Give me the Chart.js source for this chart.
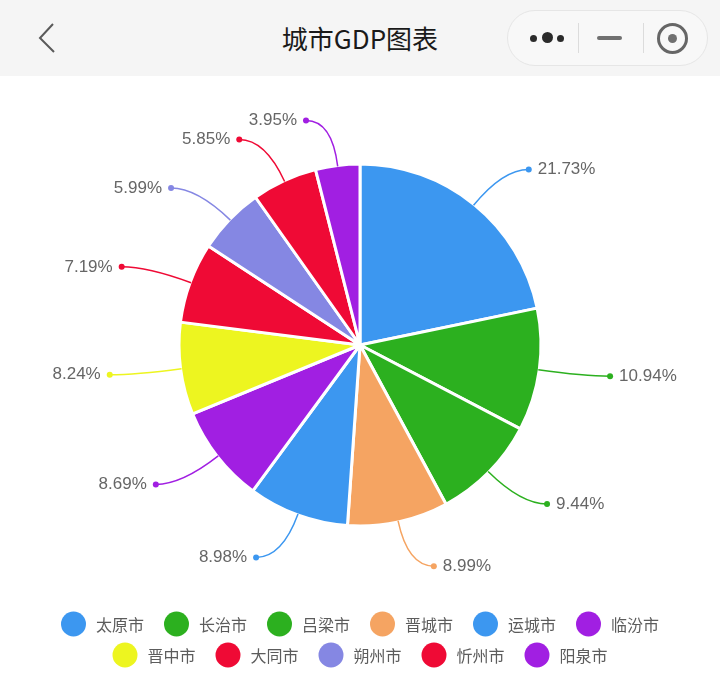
<!DOCTYPE html>
<html>
<head>
<meta charset="utf-8">
<title>城市GDP图表</title>
<script src="https://cdn.jsdelivr.net/npm/chart.js"></script>
<style>
  body { margin:0; width:720px; height:693px; background:#fff; overflow:hidden; font-family:"Noto Sans CJK SC", sans-serif; }
  .nav { position:absolute; left:0; top:0; width:720px; height:76px; background:#f5f5f5; }
  .nav .back { position:absolute; left:30px; top:16px; }
  .nav .title { position:absolute; left:0; right:0; top:18px; text-align:center; font-size:26px; line-height:40px; color:#1a1a1a; }
  .capsule { position:absolute; left:507px; top:10px; width:199px; height:54px; border:1px solid #e6e6e6; border-radius:28px; background:#f8f8f8; }
  .capsule .sep { position:absolute; top:12px; width:1px; height:30px; background:#dcdcdc; }
  .dot { position:absolute; border-radius:50%; background:#2b2b2b; }
  .minus { position:absolute; left:89px; top:25px; width:25px; height:4px; border-radius:2px; background:#707070; }
  .ring { position:absolute; left:149px; top:12px; width:25px; height:25px; border:3px solid #666; border-radius:50%; }
  .ring i { position:absolute; left:8px; top:8px; width:9px; height:9px; border-radius:50%; background:#707070; }
  #wrap { position:absolute; left:0; top:76px; width:720px; height:617px; }
</style>
</head>
<body>
  <div class="nav">
    <svg class="back" width="40" height="44"><polyline points="23,8 10,22 24,36" fill="none" stroke="#5a5a5a" stroke-width="2"/></svg>
    <div class="title">城市GDP图表</div>
    <div class="capsule">
      <div class="dot" style="left:22px;top:24px;width:7px;height:7px;"></div>
      <div class="dot" style="left:34px;top:21px;width:11px;height:11px;"></div>
      <div class="dot" style="left:49px;top:24px;width:7px;height:7px;"></div>
      <div class="sep" style="left:70px;"></div>
      <div class="minus"></div>
      <div class="sep" style="left:135px;"></div>
      <div class="ring"><i></i></div>
    </div>
  </div>
  <div id="wrap"><canvas id="pie"></canvas></div>

<script>
  // ---------------- Data ----------------
  const cities = ["太原市", "长治市", "吕梁市", "晋城市", "运城市", "临汾市", "晋中市", "大同市", "朔州市", "忻州市", "阳泉市"];
  const shares = [21.73, 10.94, 9.44, 8.99, 8.98, 8.69, 8.24, 7.19, 5.99, 5.85, 3.95];
  const colors = ["#3c97f0", "#2cb01f", "#2cb01f", "#f5a462", "#3c97f0", "#a11fe2", "#edf520", "#ef0a35", "#8587e3", "#ef0a35", "#a11fe2"];

  const total = shares.reduce((a, b) => a + b, 0);

  // ---------------- Leader lines + percent labels ----------------
  const pieLabels = {
    id: "pieLabels",
    afterDatasetsDraw(chart) {
      const ctx = chart.ctx;
      const meta = chart.getDatasetMeta(0);
      ctx.save();
      ctx.font = '17px "Liberation Sans", Arial, sans-serif';
      ctx.textBaseline = "middle";
      meta.data.forEach((arc, i) => {
        const { x, y, startAngle, endAngle, outerRadius } = arc.getProps(["x", "y", "startAngle", "endAngle", "outerRadius"], true);
        const mid = (startAngle + endAngle) / 2;
        const r0 = outerRadius - 1;
        const r1 = outerRadius * 1.25;
        const x0 = x + Math.cos(mid) * r0, y0 = y + Math.sin(mid) * r0;
        const x1 = x + Math.cos(mid) * r1, y1 = y + Math.sin(mid) * r1;
        const right = x1 >= x;
        const x2 = right ? x1 + 26 : x1 - 26;
        const color = colors[i];

        ctx.strokeStyle = color;
        ctx.lineWidth = 1.5;
        ctx.beginPath();
        ctx.moveTo(x0, y0);
        ctx.quadraticCurveTo(x1, y1, x2, y1);
        ctx.stroke();

        ctx.fillStyle = color;
        ctx.beginPath();
        ctx.arc(x2, y1, 3, 0, Math.PI * 2);
        ctx.fill();

        ctx.fillStyle = "#666";
        ctx.textAlign = right ? "left" : "right";
        const txt = (shares[i] / total * 100).toFixed(2) + "%";
        ctx.fillText(txt, right ? x2 + 9 : x2 - 9, y1);
      });
      ctx.restore();
    }
  };

  // ---------------- Legend (two centred rows) ----------------
  const dotLegend = {
    id: "dotLegend",
    afterDraw(chart) {
      const ctx = chart.ctx;
      const size = 25, gap = 10, after = 20;
      const rowY = [548, 579];
      ctx.save();
      ctx.font = '16px "Noto Sans CJK SC", sans-serif';
      ctx.textBaseline = "middle";
      ctx.textAlign = "left";
      const items = cities.map((c, i) => ({ text: c, color: colors[i], w: size + gap + ctx.measureText(c).width }));
      const rows = [[]];
      let lineW = 0;
      items.forEach(it => {
        if (lineW + it.w > chart.width - 20 && rows[rows.length - 1].length) { rows.push([]); lineW = 0; }
        rows[rows.length - 1].push(it);
        lineW += it.w + after;
      });
      rows.forEach((row, r) => {
        const rw = row.reduce((s, it) => s + it.w, 0) + after * (row.length - 1);
        let x = (chart.width - rw) / 2;
        const cy = rowY[r] !== undefined ? rowY[r] : rowY[0] + 31 * r;
        row.forEach(it => {
          ctx.fillStyle = it.color;
          ctx.beginPath();
          ctx.arc(x + size / 2, cy, size / 2, 0, Math.PI * 2);
          ctx.fill();
          ctx.fillStyle = "#5c5c5c";
          ctx.fillText(it.text, x + size + gap, cy + 1);
          x += it.w + after;
        });
      });
      ctx.restore();
    }
  };

  new Chart(document.getElementById("pie"), {
    type: "pie",
    data: {
      labels: cities,
      datasets: [{
        data: shares,
        backgroundColor: colors,
        borderColor: "#fff",
        borderWidth: 3,
        radius: 181
      }]
    },
    options: {
      responsive: true,
      maintainAspectRatio: false,
      animation: false,
      layout: { padding: { top: 20, bottom: 99 } },
      plugins: {
        legend: { display: false },
        tooltip: { enabled: false }
      }
    },
    plugins: [pieLabels, dotLegend]
  });
</script>
</body>
</html>
